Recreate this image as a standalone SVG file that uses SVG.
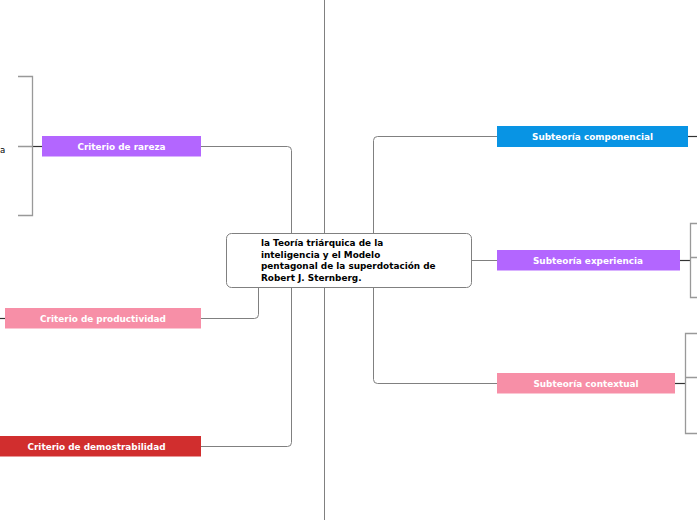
<svg xmlns="http://www.w3.org/2000/svg" width="697" height="520" viewBox="0 0 697 520">
<style>
.conn{fill:none;stroke:#808080;stroke-width:1}
.stub{fill:none;stroke:#333;stroke-width:1.2}
.brk{fill:none;stroke:#999;stroke-width:1.3}
.lbl{font-family:"DejaVu Sans",Verdana,sans-serif;font-weight:bold;font-size:8.9px;fill:#fff;text-anchor:middle}
.ttl{font-family:"DejaVu Sans",Verdana,sans-serif;font-weight:bold;font-size:8.9px;fill:#000}
</style>
<rect width="697" height="520" fill="#fff"/>
<line x1="324.5" y1="0" x2="324.5" y2="520" stroke="#808080" stroke-width="1"/>
<g id="connectors">
<path class="conn" d="M201,146.5 H287.5 Q291.5,146.5 291.5,150.5 V233"/>
<path class="conn" d="M201,318.5 H254.5 Q258.5,318.5 258.5,314.5 V287"/>
<path class="conn" d="M201,446.5 H287.5 Q291.5,446.5 291.5,442.5 V287"/>
<path class="conn" d="M373.5,233 V140.5 Q373.5,136.5 377.5,136.5 H497"/>
<path class="conn" d="M471,260.5 H497"/>
<path class="conn" d="M373.5,287 V379.5 Q373.5,383.5 377.5,383.5 H497"/>
<path class="stub" d="M32,146.5 H42"/>
<path class="brk" d="M18,76.5 H32.5 V215.5 H18 M18,146.5 H32.5"/>
<path class="stub" d="M0,318.5 H5"/>
<path class="stub" d="M688,136.5 H697"/>
<path class="stub" d="M680,260.5 H691"/>
<path class="brk" d="M697,223.5 H690.5 V297.5 H697 M690.5,257.5 H697"/>
<path class="stub" d="M675,383.5 H685"/>
<path class="brk" d="M697,333.5 H685.5 V433.5 H697 M685.5,377.5 H697"/>
</g>
<g id="center">
<rect x="226.5" y="233.5" width="245" height="54" rx="5" fill="#fff" stroke="#808080" stroke-width="1"/>
<text class="ttl" x="261" y="246">la Teoría triárquica de la</text>
<text class="ttl" x="261" y="257.5">inteligencia y el Modelo</text>
<text class="ttl" x="261" y="269">pentagonal de la superdotación de</text>
<text class="ttl" x="261" y="280.5">Robert J. Sternberg.</text>
</g>
<g id="rareza">
<rect x="42" y="136" width="159" height="20.5" fill="#b366ff"/>
<text class="lbl" x="121.5" y="149.5">Criterio de rareza</text>
</g>
<g id="productividad">
<rect x="5" y="308" width="196" height="20.5" fill="#f78fa7"/>
<text class="lbl" x="103" y="321.5">Criterio de productividad</text>
</g>
<g id="demostrabilidad">
<rect x="0" y="436" width="201" height="20.5" fill="#d12e2e"/>
<text class="lbl" x="96.5" y="449.5">Criterio de demostrabilidad</text>
</g>
<g id="componencial">
<rect x="497" y="126" width="191" height="21" fill="#0894e4"/>
<text class="lbl" x="592.5" y="139.5">Subteoría componencial</text>
</g>
<g id="experiencia">
<rect x="497" y="250" width="183" height="20.5" fill="#b366ff"/>
<text class="lbl" x="588" y="263.5">Subteoría experiencia</text>
</g>
<g id="contextual">
<rect x="497" y="373" width="178" height="20.5" fill="#f78fa7"/>
<text class="lbl" x="586" y="386.5">Subteoría contextual</text>
</g>
<g id="cut-text">
<text x="0" y="153" font-family="DejaVu Sans,Verdana,sans-serif" font-size="8.6" fill="#000">a</text>
</g>
</svg>
